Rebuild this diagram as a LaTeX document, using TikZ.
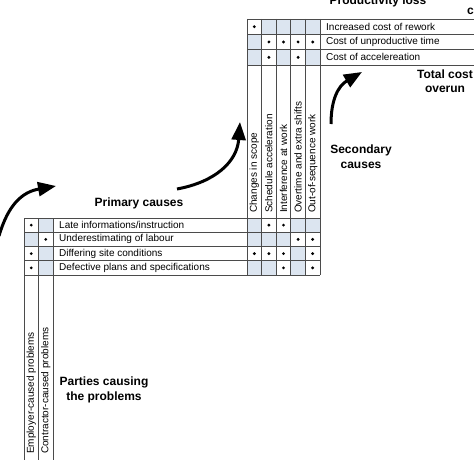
\documentclass[tikz,border=0pt]{standalone}
\usepackage{fontspec}
\setmainfont{Liberation Sans}
\usetikzlibrary{arrows.meta}
\usetikzlibrary{positioning}

\definecolor{cellblue}{RGB}{220,229,240}
\definecolor{gridgray}{RGB}{75,75,75}

\begin{document}
\begin{tikzpicture}[x=1pt,y=-1pt,
        grid/.style={draw=gridgray, line width=0.75pt},
        rowlabel/.style={anchor=west, inner sep=0pt, font=\fontsize{10}{12}\selectfont},
        colhead/.style={rotate=90, anchor=west, inner sep=0pt, font=\fontsize{10}{12}\selectfont},
        heading/.style={align=center, inner sep=0pt, font=\fontsize{12}{14.5}\selectfont\bfseries},
        hitdot/.style={fill=black},
        bigarrow/.style={line width=3pt, -{Triangle[length=18pt,width=14pt]}}
    ]
        \useasboundingbox (0,0) rectangle (474,460);

        % productivity loss table (top)
        \foreach \r in {1,2,3}
            \foreach \c in {1,...,5}
                \fill[cellblue] (247+\c*14.6-14.6,19+\r*15.33-15.33) rectangle ++(14.6,15.33);
        \foreach \r/\c in {1/1,2/2,2/3,2/4,2/5,3/2,3/4} {
            \fill[white] (247+\c*14.6-14.6,19+\r*15.33-15.33) rectangle ++(14.6,15.33);
            \fill[hitdot] (247+\c*14.6-7.3,19+\r*15.33-7.67) circle (1.6pt);
        }

        % primary causes table (bottom)
        \foreach \r in {1,...,4} {
            \foreach \c in {1,...,5}
                \fill[cellblue] (247+\c*14.6-14.6,218+\r*14.25-14.25) rectangle ++(14.6,14.25);
            \foreach \c in {1,2}
                \fill[cellblue] (24+\c*14.5-14.5,218+\r*14.25-14.25) rectangle ++(14.5,14.25);
        }
        \foreach \r/\c in {1/2,1/3,2/4,2/5,3/1,3/2,3/3,3/5,4/3,4/5} {
            \fill[white] (247+\c*14.6-14.6,218+\r*14.25-14.25) rectangle ++(14.6,14.25);
            \fill[hitdot] (247+\c*14.6-7.3,218+\r*14.25-7.12) circle (1.6pt);
        }
        \foreach \r/\c in {1/1,2/2,3/1,4/1} {
            \fill[white] (24+\c*14.5-14.5,218+\r*14.25-14.25) rectangle ++(14.5,14.25);
            \fill[hitdot] (24+\c*14.5-7.25,218+\r*14.25-7.12) circle (1.6pt);
        }

        % grid
        \foreach \y in {19,34.33,49.67,65}
            \draw[grid] (247,\y) -- (480,\y);
        \foreach \x in {247,261.6,276.2,290.8,305.4,320}
            \draw[grid] (\x,19) -- (\x,275);
        \foreach \y in {218,232.25,246.5,260.75,275}
            \draw[grid] (24,\y) -- (320,\y);
        \foreach \x in {24,38.5,53}
            \draw[grid] (\x,218) -- (\x,466);

        % row labels
        \node[rowlabel] (loss1) at (326,26.67) {Increased cost of rework};
        \node[rowlabel] (loss2) at (326,42) {Cost of unproductive time};
        \node[rowlabel] (loss3) at (326,57.33) {Cost of accelereation};

        \node[rowlabel] (cause1) at (59,225.12) {Late informations/instruction};
        \node[rowlabel] (cause2) at (59,239.37) {Underestimating of labour};
        \node[rowlabel] (cause3) at (59,253.62) {Differing site conditions};
        \node[rowlabel] (cause4) at (59,267.87) {Defective plans and specifications};

        % column heads
        \node[colhead] (second1) at (254.3,213) {Changes in scope};
        \node[colhead] (second2) at (268.9,213) {Schedule acceleration};
        \node[colhead] (second3) at (283.5,213) {Interference at work};
        \node[colhead] (second4) at (298.1,213) {Overtime and extra shifts};
        \node[colhead] (second5) at (312.7,213) {Out-of-sequence work};

        \node[colhead] (party1) at (31.25,454) {Employer-caused problems};
        \node[colhead] (party2) at (45.75,454) {Contractor-caused problems};

        % headings
        \node[heading, anchor=base] (lossTitle) at (378,5) {Productivity loss};
        \node[heading, anchor=base west] (conseqTitle) at (467,15) {c};
        \node[heading] (totalTitle) at (445,81) {Total cost\\overun};
        \node[heading] (secondTitle) at (361,156.5) {Secondary\\causes};
        \node[heading, anchor=base] (primaryTitle) at (139,206) {Primary causes};
        \node[heading] (partyTitle) at (104,390) {Parties causing\\the problems};

        % arrows
        \coordinate (arrA) at (-1,236);
        \coordinate (arrAend) at (56,186);
        \coordinate (arrB) at (177,189);
        \coordinate (arrBend) at (240,122);
        \coordinate (arrC) at (331,124);
        \coordinate (arrCend) at (362,72);
        \draw[bigarrow] (arrA) .. controls (8,205) and (22,192) .. (arrAend);
        \draw[bigarrow] (arrB) .. controls (215,182) and (237,162) .. (arrBend);
        \draw[bigarrow] (arrC) .. controls (331,100) and (338,86) .. (arrCend);
    \end{tikzpicture}
\end{document}
